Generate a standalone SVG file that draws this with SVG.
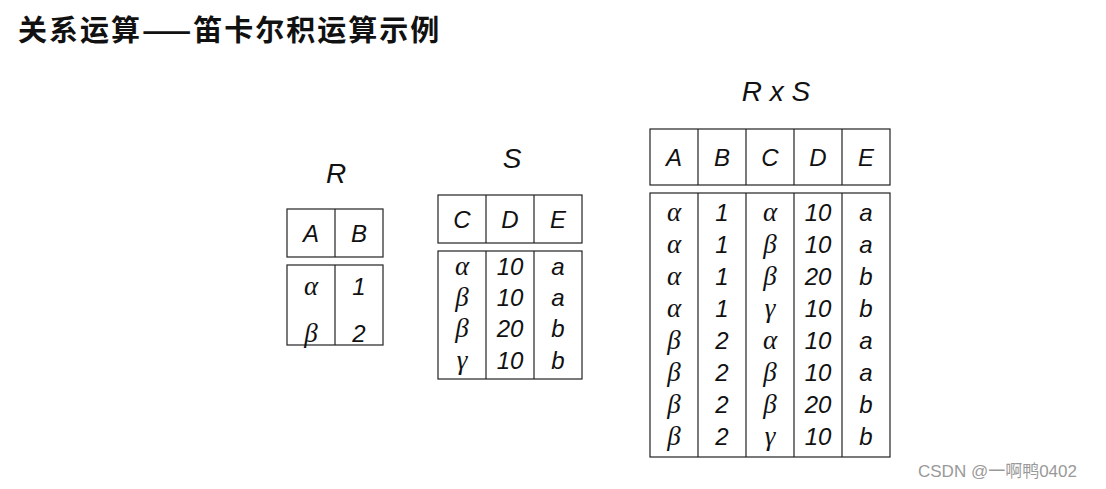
<svg xmlns="http://www.w3.org/2000/svg" width="1106" height="489" viewBox="0 0 1106 489">
<style>
.b{fill:none;stroke:#222;stroke-width:1.2}
.t{font-family:"Liberation Sans",Arial,sans-serif;font-style:italic;font-size:24px;fill:#111;text-anchor:middle}
.g{font-family:"Liberation Serif","DejaVu Serif",serif;font-style:italic;font-size:27px;fill:#111;text-anchor:middle}
.h{font-family:"Liberation Sans",Arial,sans-serif;font-style:italic;font-size:28px;fill:#111;text-anchor:middle}
</style>
<rect width="1106" height="489" fill="#fff"/>
<text x="18" y="41" font-family="'Noto Sans CJK SC',sans-serif" font-weight="bold" font-size="29" letter-spacing="2" fill="#111">关系运算——笛卡尔积运算示例</text>
<g id="R">
<text class="h" x="336" y="183">R</text>
<rect class="b" x="287" y="209" width="96" height="48"/><line class="b" x1="335" y1="209" x2="335" y2="257"/>
<rect class="b" x="287" y="265" width="96" height="80"/><line class="b" x1="335" y1="265" x2="335" y2="345"/>
<text class="t" x="311" y="242">A</text><text class="t" x="359" y="242">B</text>
<text class="g" x="311" y="295">α</text><text class="t" x="359" y="295">1</text>
<text class="g" x="311" y="342">β</text><text class="t" x="359" y="342">2</text>
</g>
<g id="S">
<text class="h" x="512" y="168">S</text>
<rect class="b" x="438" y="195" width="144" height="48"/><line class="b" x1="486" y1="195" x2="486" y2="243"/><line class="b" x1="534" y1="195" x2="534" y2="243"/>
<rect class="b" x="438" y="251" width="144" height="128"/><line class="b" x1="486" y1="251" x2="486" y2="379"/><line class="b" x1="534" y1="251" x2="534" y2="379"/>
<text class="t" x="462" y="228">C</text><text class="t" x="510" y="228">D</text><text class="t" x="558" y="228">E</text>
<text class="g" x="462" y="275">α</text><text class="t" x="510" y="275">10</text><text class="t" x="558" y="275">a</text>
<text class="g" x="462" y="306">β</text><text class="t" x="510" y="306">10</text><text class="t" x="558" y="306">a</text>
<text class="g" x="462" y="337">β</text><text class="t" x="510" y="337">20</text><text class="t" x="558" y="337">b</text>
<text class="g" x="462" y="369">γ</text><text class="t" x="510" y="369">10</text><text class="t" x="558" y="369">b</text>
</g>
<g id="RxS">
<text class="h" x="776" y="101">R x S</text>
<rect class="b" x="650" y="129" width="240" height="56"/>
<rect class="b" x="650" y="193" width="240" height="264"/>
<path class="b" d="M698 129V185M746 129V185M794 129V185M842 129V185M698 193V457M746 193V457M794 193V457M842 193V457"/>
<text class="t" x="674" y="166">A</text><text class="t" x="722" y="166">B</text><text class="t" x="770" y="166">C</text><text class="t" x="818" y="166">D</text><text class="t" x="866" y="166">E</text>
<g>
<text class="g" x="674" y="221">α</text><text class="t" x="722" y="221">1</text><text class="g" x="770" y="221">α</text><text class="t" x="818" y="221">10</text><text class="t" x="866" y="221">a</text>
<text class="g" x="674" y="253">α</text><text class="t" x="722" y="253">1</text><text class="g" x="770" y="253">β</text><text class="t" x="818" y="253">10</text><text class="t" x="866" y="253">a</text>
<text class="g" x="674" y="285">α</text><text class="t" x="722" y="285">1</text><text class="g" x="770" y="285">β</text><text class="t" x="818" y="285">20</text><text class="t" x="866" y="285">b</text>
<text class="g" x="674" y="317">α</text><text class="t" x="722" y="317">1</text><text class="g" x="770" y="317">γ</text><text class="t" x="818" y="317">10</text><text class="t" x="866" y="317">b</text>
<text class="g" x="674" y="349">β</text><text class="t" x="722" y="349">2</text><text class="g" x="770" y="349">α</text><text class="t" x="818" y="349">10</text><text class="t" x="866" y="349">a</text>
<text class="g" x="674" y="381">β</text><text class="t" x="722" y="381">2</text><text class="g" x="770" y="381">β</text><text class="t" x="818" y="381">10</text><text class="t" x="866" y="381">a</text>
<text class="g" x="674" y="413">β</text><text class="t" x="722" y="413">2</text><text class="g" x="770" y="413">β</text><text class="t" x="818" y="413">20</text><text class="t" x="866" y="413">b</text>
<text class="g" x="674" y="445">β</text><text class="t" x="722" y="445">2</text><text class="g" x="770" y="445">γ</text><text class="t" x="818" y="445">10</text><text class="t" x="866" y="445">b</text>
</g>
</g>
<text x="918" y="477" font-family="'Liberation Sans','Noto Sans CJK SC',sans-serif" font-size="17" fill="#999">CSDN @一啊鸭0402</text>
</svg>
